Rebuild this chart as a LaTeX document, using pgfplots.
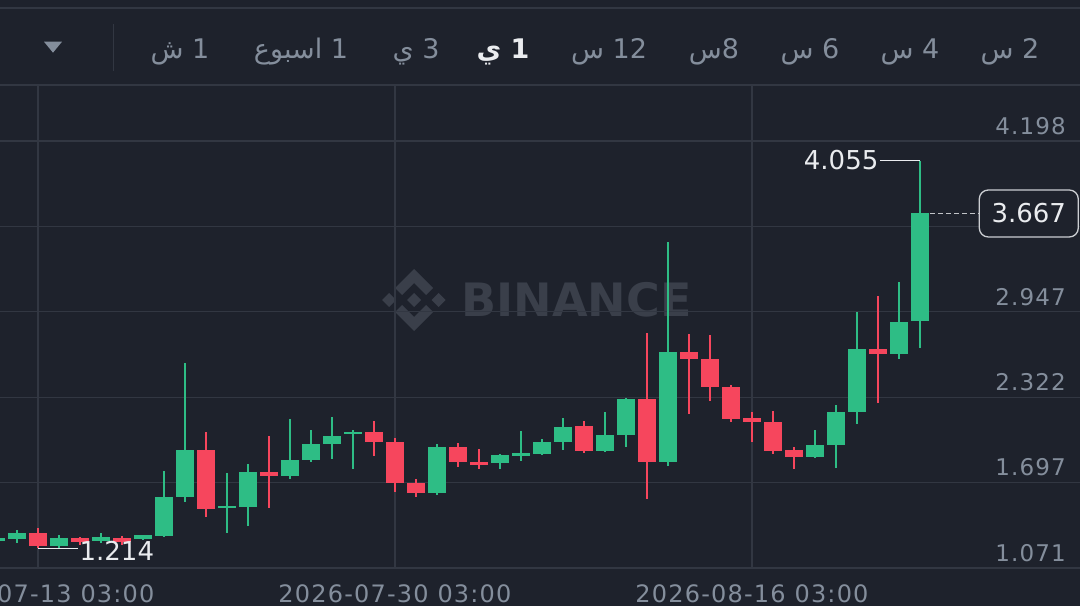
\documentclass[border=0pt]{standalone}
\usepackage{pgfplots}
\usepackage{pgfplotstable}
\pgfplotsset{compat=1.18}
\usepackage{fontspec}
\setmainfont{DejaVu Sans}
\newfontfamily\arabicfont[Script=Arabic]{DejaVu Sans}
\newfontfamily\labfont[LetterSpace=5]{DejaVu Sans}
\TeXXeTstate=1

\definecolor{bg}{RGB}{30,34,44}
\definecolor{gridc}{RGB}{50,55,66}
\definecolor{upc}{RGB}{46,189,133}
\definecolor{dnc}{RGB}{246,70,93}
\definecolor{txtc}{RGB}{132,142,156}
\definecolor{wm}{RGB}{58,63,74}
\definecolor{hi}{RGB}{234,236,239}

% day index, open, high, low, close
\pgfplotstableread{
x   o     h     l     c
-2  1.269 1.305 1.261 1.291
-1  1.281 1.349 1.256 1.325
1   1.229 1.313 1.218 1.291
3   1.271 1.329 1.252 1.296
5   1.281 1.315 1.278 1.313
6   1.307 1.781 1.300 1.593
7   1.593 2.574 1.552 1.935
9   1.508 1.764 1.329 1.527
10  1.515 1.830 1.381 1.772
12  1.744 2.162 1.720 1.862
13  1.862 2.081 1.849 1.977
14  1.979 2.174 1.867 2.037
15  2.050 2.081 1.796 2.069
19  1.618 1.979 1.605 1.955
22  1.838 1.903 1.796 1.896
23  1.891 2.074 1.857 1.911
24  1.906 2.013 1.900 1.993
25  1.993 2.167 1.935 2.105
27  1.930 2.215 1.918 2.045
28  2.045 2.313 1.959 2.308
30  1.849 3.460 1.818 2.652
37  1.886 2.081 1.874 1.971
38  1.971 2.264 1.801 2.211
39  2.215 2.943 2.123 2.672
41  2.638 3.167 2.599 2.874
42  2.879 4.055 2.679 3.667
}\upT

\pgfplotstableread{
x   o     h     l     c
0   1.329 1.364 1.214 1.229
2   1.293 1.300 1.239 1.264
4   1.288 1.305 1.239 1.264
8   1.935 2.069 1.447 1.503
11  1.772 2.037 1.508 1.744
16  2.069 2.147 1.893 1.996
17  1.996 2.020 1.630 1.691
18  1.691 1.723 1.593 1.622
20  1.955 1.988 1.813 1.849
21  1.849 1.942 1.794 1.825
26  2.110 2.147 1.911 1.930
29  2.308 2.794 1.576 1.849
31  2.652 2.782 2.196 2.601
32  2.599 2.775 2.296 2.398
33  2.398 2.411 2.142 2.160
34  2.167 2.213 1.996 2.142
35  2.142 2.220 1.906 1.930
36  1.935 1.959 1.794 1.886
40  2.672 3.064 2.281 2.638
}\dnT

\pgfplotsset{
  wick/.style={draw=none, mark=none,
    error bars/.cd, y dir=both, y explicit, error mark=none,
    error bar style={line width=2pt, draw=#1}},
  body/.style={draw=none, mark=none,
    error bars/.cd, y dir=both, y explicit, error mark=none,
    error bar style={line width=17.5pt, line cap=butt, draw=#1}},
}

\begin{document}
\begin{tikzpicture}
\fill[bg] (0,0) rectangle (1080pt,606pt);
\useasboundingbox (0,0) rectangle (1080pt,606pt);

% tab bar
\draw[gridc, line width=1.2pt] (0,598pt) -- (1080pt,598pt);
\draw[gridc, line width=1.2pt] (0,521pt) -- (1080pt,521pt);
\draw[gridc, line width=1.2pt] (113.6pt,582pt) -- (113.6pt,535pt);
\fill[txtc] (44pt,564.3pt) -- (62pt,564.3pt) -- (53pt,553.3pt) -- cycle;
\begin{scope}[every node/.style={anchor=base, inner sep=0pt, text=txtc,
    font=\arabicfont\fontsize{27}{27}\selectfont}]
  \node at (180pt,547pt) {\beginR 1 ش\endR};
  \node at (301pt,547pt) {\beginR 1 اسبوع\endR};
  \node at (416pt,547pt) {\beginR 3 ي\endR};
  \node[text=hi, font=\arabicfont\bfseries\fontsize{27}{27}\selectfont] at (503pt,547pt) {\beginR 1 ي\endR};
  \node at (609pt,547pt) {\beginR 12 س\endR};
  \node at (714pt,547pt) {\beginR 8س\endR};
  \node at (810pt,547pt) {\beginR 6 س\endR};
  \node at (910pt,547pt) {\beginR 4 س\endR};
  \node at (1010pt,547pt) {\beginR 2 س\endR};
\end{scope}

% watermark
\begin{scope}[wm]
  \fill (414pt,313pt) -- (421pt,306pt) -- (414pt,299pt) -- (407pt,306pt) -- cycle;
  \fill (389pt,313pt) -- (396pt,306pt) -- (389pt,299pt) -- (382pt,306pt) -- cycle;
  \fill (438.5pt,313pt) -- (445.5pt,306pt) -- (438.5pt,299pt) -- (431.5pt,306pt) -- cycle;
  \fill (414pt,337pt) -- (433pt,318pt) -- (426pt,311pt) -- (414pt,323pt) -- (402pt,311pt) -- (395pt,318pt) -- cycle;
  \fill (414pt,275pt) -- (433pt,294pt) -- (426pt,301pt) -- (414pt,289pt) -- (402pt,301pt) -- (395pt,294pt) -- cycle;
  \node[anchor=base, inner sep=0pt, text=wm, font=\bfseries\fontsize{46}{46}\selectfont] at (576.5pt,289pt) {BINANCE};
\end{scope}

\begin{axis}[
  at={(0pt,38pt)}, anchor=south west,
  scale only axis, width=1080pt, height=483pt,
  xmin=-1.8095, xmax=49.619, ymin=1.071, ymax=4.608,
  axis line style={draw=none},
  major tick length=0pt,
  xtick={0,17,34},
  xticklabels={2026-07-13 03:00,2026-07-30 03:00,2026-08-16 03:00},
  ytick={1.071,1.697,2.322,2.947,4.198},
  extra y ticks={3.572}, extra y tick labels={},
  extra y tick style={grid=major},
  xmajorgrids, ymajorgrids,
  grid style={gridc, line width=1.2pt},
  yticklabel pos=right,
  y tick label style={anchor=south east, inner sep=0pt, xshift=-14pt, yshift=6pt,
    font=\labfont\fontsize{23}{23}\selectfont, text=txtc},
  yticklabel style={/pgf/number format/.cd, fixed, fixed zerofill, precision=3,
    assume math mode=true},
  x tick label style={anchor=base, inner sep=0pt, yshift=-34pt,
    font=\labfont\fontsize{24}{24}\selectfont, text=txtc},
]
\addplot[wick=upc] table[x=x, y expr={(\thisrow{h}+\thisrow{l})/2},
  y error expr={(\thisrow{h}-\thisrow{l})/2}] {\upT};
\addplot[body=upc] table[x=x, y expr={(\thisrow{o}+\thisrow{c})/2},
  y error expr={abs(\thisrow{c}-\thisrow{o})/2}] {\upT};
\addplot[wick=dnc] table[x=x, y expr={(\thisrow{h}+\thisrow{l})/2},
  y error expr={(\thisrow{h}-\thisrow{l})/2}] {\dnT};
\addplot[body=dnc] table[x=x, y expr={(\thisrow{o}+\thisrow{c})/2},
  y error expr={abs(\thisrow{c}-\thisrow{o})/2}] {\dnT};

% high / low / last price markers
\addplot[hi, line width=1.3pt] coordinates {(0,1.214) (1.905,1.214)}
  node[pos=1, anchor=west, inner sep=1pt, yshift=-2pt, text=hi,
       font=\fontsize{26}{26}\selectfont] {1.214};
\addplot[hi, line width=1.3pt] coordinates {(40.095,4.055) (42,4.055)}
  node[pos=0, anchor=east, inner sep=1pt, text=hi,
       font=\fontsize{26}{26}\selectfont] {4.055};
\addplot[hi!80!bg, line width=1.2pt, dash pattern=on 5pt off 3pt]
  coordinates {(42.476,3.667) (44.81,3.667)};
\end{axis}

\node[draw=hi!85!bg, line width=1.3pt, fill=bg, rounded corners=9pt,
  minimum width=99pt, minimum height=47pt, inner sep=0pt, text=hi,
  font=\fontsize{26}{26}\selectfont] at (1028.8pt,392.5pt) {3.667};
\end{tikzpicture}
\end{document}
